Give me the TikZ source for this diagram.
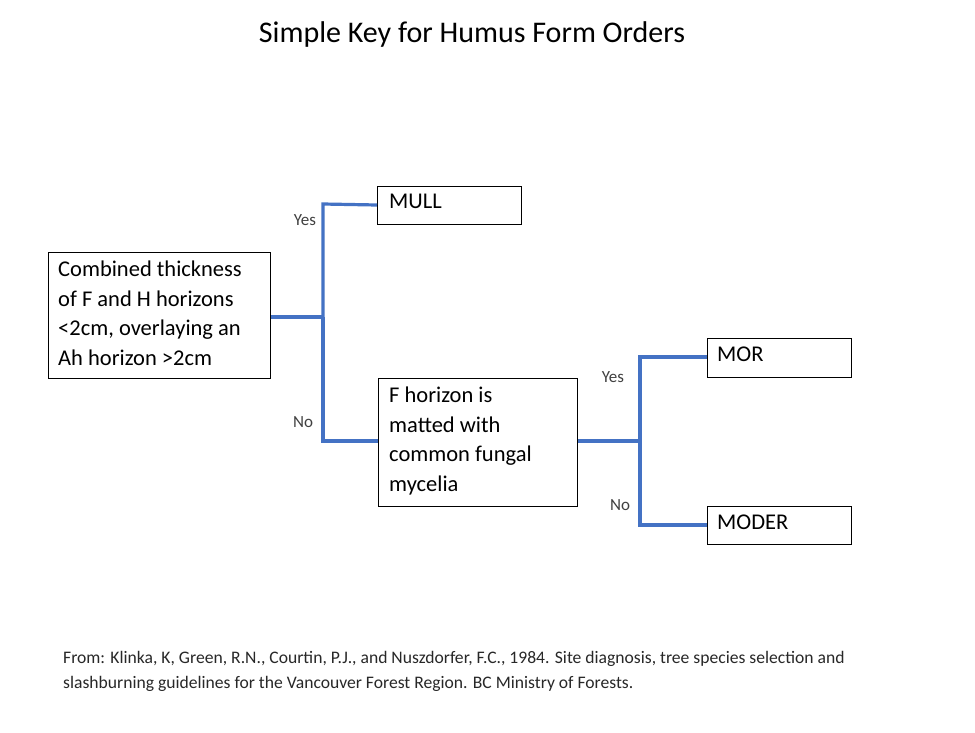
\documentclass[tikz,border=0pt]{standalone}
\usepackage{fontspec}
\setmainfont{Carlito}
\begin{document}
\begin{tikzpicture}[x=1pt,y=-1pt,
  box/.style={draw=black,line width=0.8pt,inner sep=0pt,anchor=north west},
  txt/.style={anchor=north west,align=left,font=\fontsize{22.5}{29.5}\selectfont,inner sep=0pt},
  conn/.style={draw={rgb,255:red,68;green,114;blue,196},line width=3.2pt},
  lab/.style={font=\fontsize{17}{18}\selectfont,text={rgb,255:red,64;green,64;blue,64}}]
\useasboundingbox[fill=white] (0,0) rectangle (975,732);
\node[font=\fontsize{30}{32}\selectfont] (title) at (472,34) {Simple Key for Humus Form Orders};
\node[box,minimum width=222pt,minimum height=126pt] (a) at (48,252) {};
\node[txt] at (58,261) {Combined thickness\\of F and H horizons\\<2cm, overlaying an\\Ah horizon >2cm};
\node[box,minimum width=144pt,minimum height=38pt] (mull) at (377,186) {};
\node[txt] at (389,194) {MULL};
\node[box,minimum width=199pt,minimum height=128pt] (f) at (378,378) {};
\node[txt] at (389,387) {F horizon is\\matted with\\common fungal\\mycelia};
\node[box,minimum width=144pt,minimum height=39pt] (mor) at (707,338) {};
\node[txt] at (717,347) {MOR};
\node[box,minimum width=144pt,minimum height=38pt] (moder) at (707,506) {};
\node[txt] at (717,515) {MODER};
\coordinate (j1) at (323,317);
\coordinate (j2) at (640,441);
\draw[conn] (a.east |- j1) -- (j1);
\draw[conn] (j1) -- (323,204) -- (mull.west |- 0,205);
\draw[conn] (j1) -- (323,441) -- (f.west |- 0,441);
\draw[conn] (f.east |- j2) -- (j2);
\draw[conn] (j2) -- (640,357) -- (mor.west |- 0,357);
\draw[conn] (j2) -- (640,525) -- (moder.west |- 0,525);
\node[lab] at (305,220) {Yes};
\node[lab] at (303,422) {No};
\node[lab] at (613,377) {Yes};
\node[lab] at (620,505) {No};
\node[anchor=north west,align=left,inner sep=0pt,font=\fontsize{17.6}{25}\selectfont,text={rgb,255:red,40;green,40;blue,40}] (foot) at (63,651) {From: Klinka, K, Green, R.N., Courtin, P.J., and Nuszdorfer, F.C., 1984. Site diagnosis, tree species selection and\\slashburning guidelines for the Vancouver Forest Region. BC Ministry of Forests.};
\end{tikzpicture}
\end{document}
